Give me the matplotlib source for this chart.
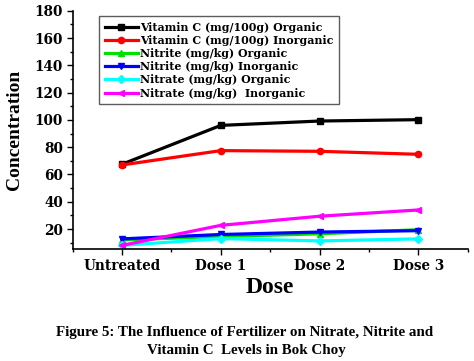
import numpy as np
import matplotlib.pyplot as plt

plt.rcParams['font.family'] = ['Liberation Serif', 'DejaVu Serif']
plt.rcParams['font.weight'] = 'bold'

doses = ['Untreated', 'Dose 1', 'Dose 2', 'Dose 3']

vitc_org = [67.5, 96, 99.2, 100.2]
vitc_inorg = [67, 77.5, 77, 74.8]
nitrite_org = [12, 14.5, 16.5, 19.5]
nitrite_inorg = [12.8, 16, 17.8, 18.8]
nitrate_org = [8, 13, 11.3, 12.8]
nitrate_inorg = [8, 22.7, 29.4, 34]

labels = ['Vitamin C (mg/100g) Organic', 'Vitamin C (mg/100g) Inorganic',
          'Nitrite (mg/kg) Organic', 'Nitrite (mg/kg) Inorganic',
          'Nitrate (mg/kg) Organic', 'Nitrate (mg/kg)  Inorganic']
series = [vitc_org, vitc_inorg, nitrite_org, nitrite_inorg, nitrate_org, nitrate_inorg]
colors = ['#000000', '#ff0000', '#00e000', '#0000ff', '#00ffff', '#ff00ff']
markers = ['s', 'o', '^', 'v', 'D', '<']

fig = plt.figure(figsize=(4.74, 3.61), dpi=100)
ax = fig.add_axes([0.153, 0.31, 0.834, 0.66])

x = np.arange(len(doses))
for vals, lab, c, m in zip(series, labels, colors, markers):
    ax.plot(x, vals, color=c, marker=m, markersize=4.5, linewidth=2.3, label=lab)

ax.set_xlim(-0.5, 3.5)
ax.set_ylim(5.3, 180)
ax.set_xticks(x)
ax.set_xticklabels(doses)
ax.set_xticks([-0.5, 0.5, 1.5, 2.5, 3.5], minor=True)
ax.set_yticks(np.arange(20, 181, 20))
ax.set_yticks(np.arange(10, 181, 10), minor=True)
ax.tick_params(axis='both', which='major', length=4, width=1, pad=3)
ax.tick_params(axis='both', which='minor', length=2.5, width=1)
for lbl in ax.get_xticklabels() + ax.get_yticklabels():
    lbl.set_fontweight('bold')
    lbl.set_fontfamily('DejaVu Serif')
    lbl.set_fontsize(9.8)

ax.spines['top'].set_visible(False)
ax.spines['right'].set_visible(False)
ax.spines['left'].set_linewidth(1.2)
ax.spines['bottom'].set_linewidth(1.2)

ax.set_ylabel('Concentration', fontsize=14, fontweight='bold', labelpad=8)
ax.set_xlabel('Dose', fontsize=17, fontweight='bold', labelpad=3)

leg = ax.legend(loc='upper left', bbox_to_anchor=(0.068, 0.978),
                prop={'family': 'DejaVu Serif', 'weight': 'bold', 'size': 7.9},
                frameon=True, fancybox=False, edgecolor='#333333',
                handlelength=3.0, handletextpad=0.2, labelspacing=0.2,
                borderpad=0.5, borderaxespad=0)
leg.get_frame().set_linewidth(1.0)

fig.text(0.517, 0.078, 'Figure 5: The Influence of Fertilizer on Nitrate, Nitrite and',
         ha='center', va='center', fontsize=10.8, fontweight='bold')
fig.text(0.519, 0.03, 'Vitamin C  Levels in Bok Choy',
         ha='center', va='center', fontsize=10.8, fontweight='bold')

fig.savefig('out.png', dpi=100)
